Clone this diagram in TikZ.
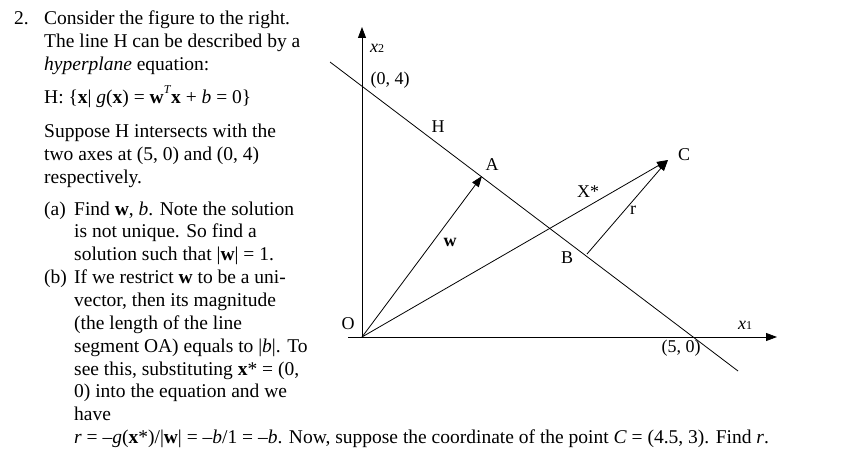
\documentclass[tikz,border=0pt]{standalone}
\usepackage{fontspec}
\setmainfont{Liberation Serif}
\usetikzlibrary{arrows.meta}
\begin{document}
\begin{tikzpicture}[x=1pt,y=-1pt,
  txt/.style={anchor=base west,inner sep=0pt,font=\fontsize{19.5}{22}\selectfont},
  lbl/.style={inner sep=0pt,font=\fontsize{18}{20}\selectfont},
  vec/.style={-{Triangle[length=11pt,width=8pt]},line width=0.8pt},
  ln/.style={line width=0.8pt}]
\useasboundingbox (0,0) rectangle (856,468);
% text
\node[txt] (n) at (14,25) {2.};
\node[txt] (t1) at (44,25) {Consider the figure to the right.};
\node[txt] (t2) at (44,48) {The line H can be described by a};
\node[txt] (t3) at (44,71) {\textit{hyperplane} equation:};
\node[txt] (t4) at (44,103) {H: \{\textbf{x}| \textit{g}(\textbf{x}) = \textbf{w}\raisebox{0.5em}{\fontsize{12}{12}\selectfont\textit{T}}\textbf{x} + \textit{b} = 0\}};
\node[txt] (t5) at (44,137) {Suppose H intersects with the};
\node[txt] (t6) at (44,160) {two axes at (5, 0) and (0, 4)};
\node[txt] (t7) at (44,183) {respectively.};
\node[txt] (a0) at (44,215) {(a)};
\node[txt] (a1) at (74,215) {Find \textbf{w}, \textit{b}. Note the solution};
\node[txt] (a2) at (74,237) {is not unique. So find a};
\node[txt] (a3) at (74,260) {solution such that |\textbf{w}| = 1.};
\node[txt] (b0) at (44,283) {(b)};
\node[txt] (b1) at (74,283) {If we restrict \textbf{w} to be a uni-};
\node[txt] (b2) at (74,306) {vector, then its magnitude};
\node[txt] (b3) at (74,329) {(the length of the line};
\node[txt] (b4) at (74,352) {segment OA) equals to |\textit{b}|. To};
\node[txt] (b5) at (74,375) {see this, substituting \textbf{x}* = (0,};
\node[txt] (b6) at (74,397) {0) into the equation and we};
\node[txt] (b7) at (74,420) {have};
\node[txt] (b8) at (74,443) {\textit{r} = –\textit{g}(\textbf{x}*)/|\textbf{w}| = –\textit{b}/1 = –\textit{b}. Now, suppose the coordinate of the point \textit{C} = (4.5, 3). Find \textit{r}.};
% figure
\coordinate (O) at (362,337);
\coordinate (Y) at (362,27);
\coordinate (X0) at (348,337);
\coordinate (X) at (777,337);
\coordinate (H0) at (330,62);
\coordinate (H1) at (738,371);
\coordinate (A) at (482,176);
\coordinate (C) at (668,160);
\coordinate (B) at (587,254);
\draw[vec] (O) -- (Y);
\draw[vec] (X0) -- (X);
\draw[ln] (H0) -- (H1);
\draw[vec] (O) -- (A);
\draw[vec] (O) -- (C);
\draw[vec] (B) -- (C);
\node[lbl] (lx2) at (377,48) {\textit{x}\fontsize{12}{12}\selectfont 2};
\node[lbl] (l04) at (390,80) {(0, 4)};
\node[lbl] (lH) at (438,127) {H};
\node[lbl] (lA) at (492,165) {A};
\node[lbl] (lC) at (684,155) {C};
\node[lbl] (lX) at (588,192) {X*};
\node[lbl] (lr) at (633,210) {r};
\node[lbl] (lw) at (450,242) {\textbf{w}};
\node[lbl] (lB) at (567,258) {B};
\node[lbl] (lO) at (348,324) {O};
\node[lbl] (lx1) at (745,325) {\textit{x}\fontsize{12}{12}\selectfont 1};
\node[lbl] (l50) at (681,348) {(5, 0)};
\end{tikzpicture}
\end{document}
